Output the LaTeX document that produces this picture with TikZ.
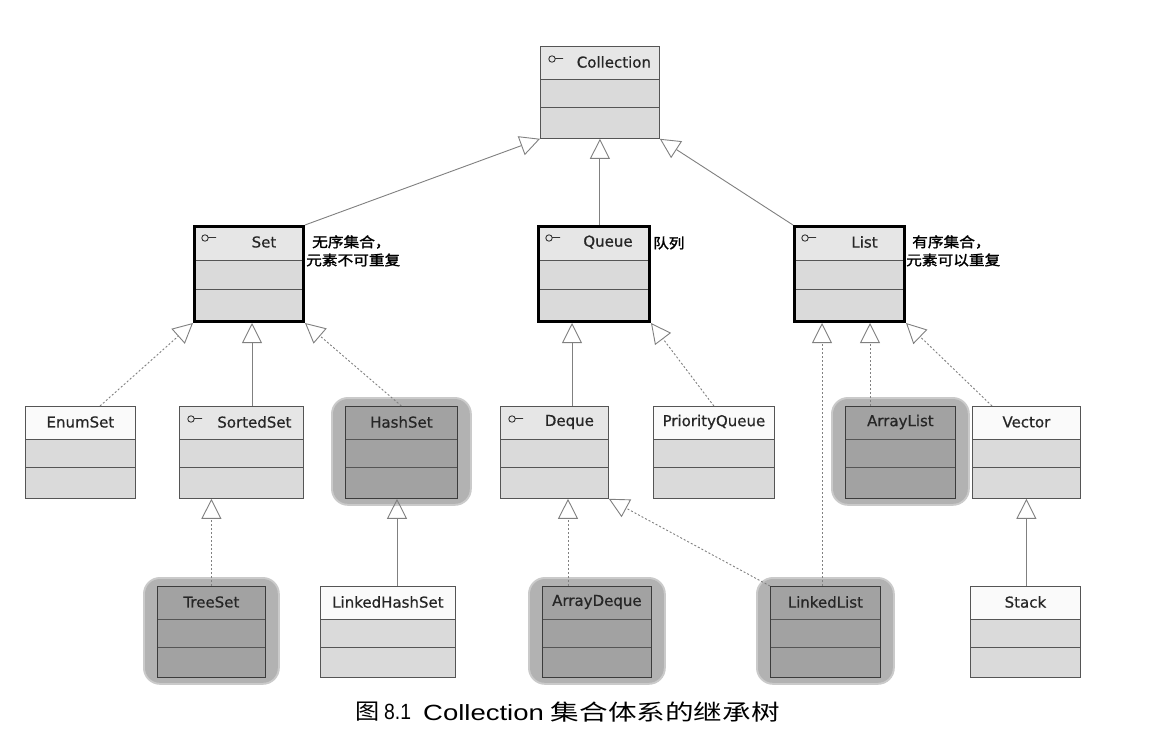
\documentclass[tikz,border=0pt]{standalone}
\usepackage{fontspec}
\setmainfont{DejaVu Sans}
\newfontfamily\lblf{DejaVu Sans}[FakeBold=0.6]
\newfontfamily\cjkb{Noto Sans CJK SC}[FakeBold=1.6,FakeStretch=1.12]
\newfontfamily\capc{Noto Sans CJK SC}[FakeStretch=1.3]
\newfontfamily\capt{Noto Sans CJK SC}[FakeStretch=1.1]
\newfontfamily\capl{Liberation Sans}[FakeStretch=1.25]
\newfontfamily\capn{Liberation Sans}[FakeStretch=0.88]
\usetikzlibrary{arrows.meta,calc,backgrounds}
\definecolor{bord}{HTML}{555555}
\definecolor{lgray}{HTML}{DADADA}
\definecolor{lhdr}{HTML}{E6E6E6}
\definecolor{whdr}{HTML}{FAFAFA}
\definecolor{dgray}{HTML}{A2A2A2}
\definecolor{halocol}{HTML}{B2B2B2}
\definecolor{haloout}{HTML}{CACACA}
\definecolor{conn}{HTML}{808080}
\tikzset{
 box/.style={rectangle, draw=bord, line width=0.8pt, inner sep=0pt, anchor=north west},
 comp/.style 2 args={path picture={
   \fill[#1] (path picture bounding box.north west) rectangle ($(path picture bounding box.north east)!0.36!(path picture bounding box.south east)$);
   \fill[#2] ($(path picture bounding box.north west)!0.36!(path picture bounding box.south west)$) rectangle (path picture bounding box.south east);
   \draw[bord, line width=0.7pt] ($(path picture bounding box.north west)!0.36!(path picture bounding box.south west)$) -- ($(path picture bounding box.north east)!0.36!(path picture bounding box.south east)$);
   \draw[bord, line width=0.7pt] ($(path picture bounding box.north west)!0.665!(path picture bounding box.south west)$) -- ($(path picture bounding box.north east)!0.665!(path picture bounding box.south east)$);
 }},
 ifc/.style={box, comp={lhdr}{lgray}},
 thk/.style={ifc, draw=black, line width=3pt},
 cls/.style={box, comp={whdr}{lgray}},
 shd/.style={box, draw=bord!70!black, comp={dgray}{dgray}},
 lab/.style={font=\lblf\fontsize{15}{18}\selectfont, text=black!85, inner sep=0pt},
 ext/.style={draw=conn, line width=0.9pt, -{Triangle[open,length=20pt,width=20pt]}},
 impl/.style={ext, dash pattern=on 2pt off 2pt},
 note/.style={font=\cjkb\fontsize{14}{16}\selectfont, anchor=west, inner sep=0pt},
 capn/.style={anchor=west, inner sep=0pt, font=\fontsize{22}{26}\selectfont},
}
\newcommand\ificon[1]{\draw[black!80, line width=0.9pt] ([shift={(12pt,-13pt)}]#1.north west) circle[radius=3.2pt] ([shift={(15.2pt,-12.5pt)}]#1.north west) -- ++(8pt,0pt);}
\newcommand\halo[1]{\begin{scope}[on background layer]
 \fill[haloout, rounded corners=17pt] ([shift={(-14pt,9pt)}]#1.north west) rectangle ([shift={(14pt,-7pt)}]#1.south east);
 \fill[halocol, rounded corners=15pt] ([shift={(-12pt,7pt)}]#1.north west) rectangle ([shift={(12pt,-5pt)}]#1.south east);
\end{scope}}
\begin{document}
\begin{tikzpicture}[x=1pt,y=-1pt]
\begin{scope}[on background layer]
\fill[white] (0,0) rectangle (1172,736);
\end{scope}
\useasboundingbox (0,0) rectangle (1172,736);

% boxes
\node[ifc, minimum width=119pt, minimum height=92pt] (coll) at (540,46) {};
\node[thk, minimum width=109pt, minimum height=95pt] (set) at (193,225) {};
\node[thk, minimum width=111pt, minimum height=95pt] (queue) at (537,225) {};
\node[thk, minimum width=110pt, minimum height=95pt] (list) at (793,225) {};
\node[cls, minimum width=110pt, minimum height=92pt] (enum) at (25,406) {};
\node[ifc, minimum width=124pt, minimum height=92pt] (sorted) at (179,406) {};
\node[shd, minimum width=112pt, minimum height=92pt] (hs) at (345,406) {};
\node[ifc, minimum width=108pt, minimum height=92pt] (deque) at (500,406) {};
\node[cls, minimum width=121pt, minimum height=92pt] (pq) at (653,406) {};
\node[shd, minimum width=110pt, minimum height=92pt] (al) at (845,406) {};
\node[cls, minimum width=108pt, minimum height=92pt] (vec) at (972,406) {};
\node[shd, minimum width=108pt, minimum height=91pt] (ts) at (157,586) {};
\node[cls, minimum width=135pt, minimum height=91pt] (lhs) at (320,586) {};
\node[shd, minimum width=109pt, minimum height=91pt] (ad) at (542,586) {};
\node[shd, minimum width=110pt, minimum height=91pt] (ll) at (770,586) {};
\node[cls, minimum width=110pt, minimum height=91pt] (stack) at (970,586) {};

\halo{hs}\halo{al}\halo{ts}\halo{ad}\halo{ll}

% interface icons
\ificon{coll}\ificon{set}\ificon{queue}\ificon{list}\ificon{sorted}\ificon{deque}

% labels
\node[lab] (coll-t) at ([xshift=14pt,yshift=-16pt]coll.north) {Collection};
\node[lab] (set-t) at ([xshift=15pt,yshift=-17pt]set.north) {Set};
\node[lab] (queue-t) at ([xshift=14pt,yshift=-17pt]queue.north) {Queue};
\node[lab] (list-t) at ([xshift=15pt,yshift=-17pt]list.north) {List};
\node[lab] (enum-t) at ([yshift=-16pt]enum.north) {EnumSet};
\node[lab] (sorted-t) at ([xshift=13pt,yshift=-16pt]sorted.north) {SortedSet};
\node[lab] (hs-t) at ([yshift=-16pt]hs.north) {HashSet};
\node[lab] (deque-t) at ([xshift=15pt,yshift=-16pt]deque.north) {Deque};
\node[lab] (pq-t) at ([yshift=-16pt]pq.north) {PriorityQueue};
\node[lab] (al-t) at ([yshift=-16pt]al.north) {ArrayList};
\node[lab] (vec-t) at ([yshift=-16pt]vec.north) {Vector};
\node[lab] (ts-t) at ([yshift=-16pt]ts.north) {TreeSet};
\node[lab] (lhs-t) at ([yshift=-16pt]lhs.north) {LinkedHashSet};
\node[lab] (ad-t) at ([yshift=-16pt]ad.north) {ArrayDeque};
\node[lab] (ll-t) at ([yshift=-16pt]ll.north) {LinkedList};
\node[lab] (stack-t) at ([yshift=-16pt]stack.north) {Stack};

% notes
\node[note] (sn1) at (312,242) {无序集合，};
\node[note] (sn2) at (306,260) {元素不可重复};
\node[note] (qn) at (653,243) {队列};
\node[note] (ln1) at (912,242) {有序集合，};
\node[note] (ln2) at (906,260) {元素可以重复};

% connectors
\draw[ext] (set.north east) -- (coll.south west);
\draw[ext] (queue.north -| coll.south) -- (coll.south);
\draw[ext] (list.north west) -- (coll.south east);

\coordinate (e1) at ([xshift=75pt]enum.north west);
\draw[impl] (e1) -- (set.south west);
\coordinate (s1) at ([xshift=73pt]sorted.north west);
\draw[ext] (s1) -- (s1 |- set.south);
\draw[impl] (hs.north) -- (set.south east);

\coordinate (d1) at ([xshift=72pt]deque.north west);
\draw[ext] (d1) -- (d1 |- queue.south);
\draw[impl] (pq.north) -- (queue.south east);

\coordinate (l1) at ([xshift=25pt]al.north west);
\draw[impl] (l1) -- (l1 |- list.south);
\coordinate (v1) at ([xshift=20pt]vec.north west);
\draw[impl] (v1) -- (list.south east);

\draw[impl] (ts.north) -- (ts.north |- sorted.south);
\coordinate (h1) at ([xshift=77pt]lhs.north west);
\draw[ext] (h1) -- (h1 |- hs.south);
\coordinate (a1) at ([xshift=26pt]ad.north west);
\draw[impl] (a1) -- (a1 |- deque.south);
\draw[impl] (ll.north west) -- (deque.south east);
\coordinate (k1) at ([xshift=52pt]ll.north west);
\draw[impl] (k1) -- (k1 |- list.south);
\draw[ext] (stack.north -| vec.south) -- (vec.south);

% caption
\node[capn] (fig) at (355,712) {\capt 图};
\node[capn] (fignum) at (384,712) {\capn 8.1};
\node[capn] (cap) at (423,712) {{\capl Collection} {\capc 集合体系的继承树}};
\end{tikzpicture}
\end{document}
